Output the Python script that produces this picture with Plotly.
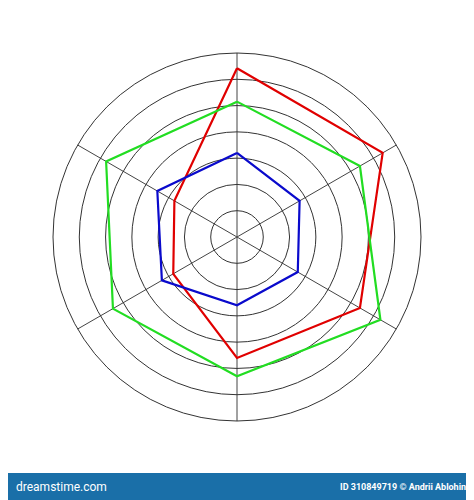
import plotly.graph_objects as go

axes = ["A", "B", "C", "D", "E", "F"]
red = [6.42, 6.4, 5.4, 4.6, 2.8, 2.75]
green = [5.15, 5.4, 6.3, 5.3, 5.45, 5.75]
blue = [3.2, 2.75, 2.67, 2.6, 3.3, 3.5]
series = [("red", red, "#e00000"), ("green", green, "#22dd22"), ("blue", blue, "#0a0acc")]

W, H = 466, 492
cx, cy, R = 229, 229, 184

fig = go.Figure()
for name, vals, col in series:
    fig.add_trace(go.Scatterpolar(r=vals + vals[:1], theta=axes + axes[:1], mode="lines",
                                  line=dict(color=col, width=2.2), name=name))

fig.update_layout(
    width=W, height=H, margin=dict(l=0, r=0, t=0, b=0),
    paper_bgcolor="white", showlegend=False,
    polar=dict(
        domain=dict(x=[(cx - R) / W, (cx + R) / W], y=[(H - cy - R) / H, (H - cy + R) / H]),
        bgcolor="white",
        radialaxis=dict(range=[0, 7], tickvals=[1, 2, 3, 4, 5, 6, 7], showticklabels=False,
                        ticks="", showline=False, gridcolor="#333", gridwidth=1),
        angularaxis=dict(rotation=90, direction="clockwise", showticklabels=False, ticks="",
                         showline=True, linecolor="#333", linewidth=1,
                         gridcolor="#444", gridwidth=1),
    ),
    shapes=[dict(type="rect", xref="paper", yref="paper", x0=0, x1=1, y0=0, y1=27 / H,
                 fillcolor="#1a6fa8", line=dict(width=0), layer="above")],
    annotations=[
        dict(text="dreamstime.com", x=6 / W, y=13.5 / H, xref="paper", yref="paper", xanchor="left",
             yanchor="middle", showarrow=False, font=dict(color="white", size=12, family="Roboto")),
        dict(text="<b>ID 310849719 © Andrii Ablohin</b>", x=(W - 6) / W, y=13.5 / H, xref="paper", yref="paper",
             xanchor="right", yanchor="middle", showarrow=False, font=dict(color="white", size=9, family="Roboto")),
    ],
)
fig.write_html("out.html")
